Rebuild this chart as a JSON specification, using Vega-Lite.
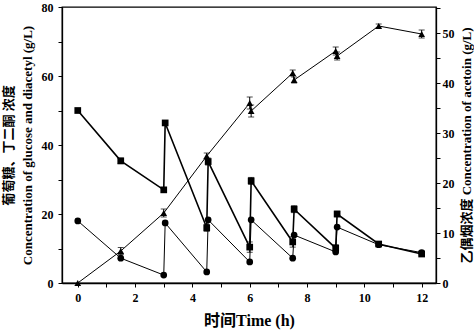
{
  "$schema": "https://vega.github.io/schema/vega-lite/v6.json",
  "width": 374,
  "height": 276,
  "autosize": "none",
  "padding": {"left": 62, "top": 7, "right": 38, "bottom": 52},
  "background": "white",
  "datasets": {
    "gd": [
      {"t": 0, "s": "glucose", "v": 50.0, "e": 0},
      {"t": 1.5, "s": "glucose", "v": 35.4, "e": 0.8},
      {"t": 3, "s": "glucose", "v": 27.0, "e": 0},
      {"t": 3.05, "s": "glucose", "v": 46.4, "e": 0},
      {"t": 4.5, "s": "glucose", "v": 16.0, "e": 1.0},
      {"t": 4.55, "s": "glucose", "v": 35.2, "e": 1.0},
      {"t": 6, "s": "glucose", "v": 10.4, "e": 1.5},
      {"t": 6.05, "s": "glucose", "v": 29.6, "e": 1.0},
      {"t": 7.5, "s": "glucose", "v": 11.9, "e": 1.5},
      {"t": 7.55, "s": "glucose", "v": 21.4, "e": 1.0},
      {"t": 9, "s": "glucose", "v": 10.1, "e": 1.0},
      {"t": 9.05, "s": "glucose", "v": 20.0, "e": 0.8},
      {"t": 10.5, "s": "glucose", "v": 11.3, "e": 0.5},
      {"t": 12, "s": "glucose", "v": 8.4, "e": 0.5},
      {"t": 0, "s": "diacetyl", "v": 18.0, "e": 0},
      {"t": 1.5, "s": "diacetyl", "v": 7.2, "e": 0},
      {"t": 3, "s": "diacetyl", "v": 2.3, "e": 0},
      {"t": 3.05, "s": "diacetyl", "v": 17.4, "e": 0},
      {"t": 4.5, "s": "diacetyl", "v": 3.2, "e": 0},
      {"t": 4.55, "s": "diacetyl", "v": 18.3, "e": 0},
      {"t": 6, "s": "diacetyl", "v": 6.1, "e": 0},
      {"t": 6.05, "s": "diacetyl", "v": 18.3, "e": 0},
      {"t": 7.5, "s": "diacetyl", "v": 7.2, "e": 0},
      {"t": 7.55, "s": "diacetyl", "v": 13.9, "e": 0},
      {"t": 9, "s": "diacetyl", "v": 9.0, "e": 0},
      {"t": 9.05, "s": "diacetyl", "v": 16.2, "e": 0},
      {"t": 10.5, "s": "diacetyl", "v": 11.1, "e": 0},
      {"t": 12, "s": "diacetyl", "v": 8.8, "e": 0}
    ],
    "ac": [
      {"t": 0, "v": 0, "e": 0},
      {"t": 1.5, "v": 6.4, "e": 0.7},
      {"t": 3, "v": 14.0, "e": 0.8},
      {"t": 4.5, "v": 25.4, "e": 0.6},
      {"t": 6, "v": 36.0, "e": 1.2},
      {"t": 6.05, "v": 34.4, "e": 1.2},
      {"t": 7.5, "v": 42.0, "e": 0.6},
      {"t": 7.55, "v": 40.6, "e": 0.6},
      {"t": 9, "v": 46.4, "e": 0.8},
      {"t": 9.05, "v": 45.4, "e": 0.8},
      {"t": 10.5, "v": 51.4, "e": 0.4},
      {"t": 12, "v": 49.8, "e": 0.8}
    ]
  },
  "layer": [
    {
      "data": {"name": "gd"},
      "encoding": {
        "x": {
          "field": "t", "type": "quantitative",
          "scale": {"domain": [-0.55, 12.5], "nice": false, "zero": false},
          "axis": {
            "title": "时间Time (h)",
            "values": [0,1,2,3,4,5,6,7,8,9,10,11,12],
            "labelExpr": "datum.value % 2 === 0 ? datum.label : ''",
            "tickSize": 4,
            "labelPadding": 5,
            "titleFontSize": 16,
            "titlePadding": 9
          }
        },
        "y": {
          "field": "v", "type": "quantitative",
          "scale": {"domain": [0, 80], "nice": false},
          "axis": {
            "title": ["葡萄糖、丁二酮 浓度", "Concentration of glucose and diacetyl (g/L)"],
            "values": [0,10,20,30,40,50,60,70,80],
            "labelExpr": "datum.value % 20 === 0 ? datum.label : ''",
            "tickSize": 4,
            "labelPadding": 5,
            "titleFontSize": 13,
            "titleLineHeight": 19,
            "titlePadding": 7
          }
        }
      },
      "layer": [
        {
          "mark": {"type": "line", "color": "black"},
          "encoding": {
            "detail": {"field": "s"},
            "strokeWidth": {"field": "s", "scale": {"domain": ["glucose", "diacetyl"], "range": [1.6, 1]}, "legend": null}
          }
        },
        {
          "transform": [{"filter": "datum.e > 0"}],
          "mark": {"type": "errorbar", "ticks": {"size": 6, "color": "black"}, "color": "black"},
          "encoding": {"yError": {"field": "e"}}
        },
        {
          "mark": {"type": "point", "filled": true, "color": "black", "opacity": 1, "size": 45},
          "encoding": {
            "shape": {"field": "s", "scale": {"domain": ["glucose", "diacetyl"], "range": ["square", "circle"]}, "legend": null}
          }
        }
      ]
    },
    {
      "data": {"name": "ac"},
      "encoding": {
        "x": {
          "field": "t", "type": "quantitative",
          "scale": {"domain": [-0.55, 12.5], "nice": false, "zero": false},
          "axis": {
            "title": "时间Time (h)",
            "values": [0,1,2,3,4,5,6,7,8,9,10,11,12],
            "labelExpr": "datum.value % 2 === 0 ? datum.label : ''",
            "tickSize": 4,
            "labelPadding": 5,
            "titleFontSize": 16,
            "titlePadding": 9
          }
        },
        "y": {
          "field": "v", "type": "quantitative",
          "scale": {"domain": [0, 55.2], "nice": false},
          "axis": {
            "orient": "right",
            "title": "乙偶烟浓度 Concentration of acetoin (g/L)",
            "values": [0,5,10,15,20,25,30,35,40,45,50,55],
            "labelExpr": "datum.value % 10 === 0 ? datum.label : ''",
            "tickSize": 4,
            "labelPadding": 2,
            "titleAngle": 270,
            "titleFontSize": 13,
            "titlePadding": 19
          }
        }
      },
      "layer": [
        {
          "mark": {"type": "line", "color": "black", "strokeWidth": 1}
        },
        {
          "transform": [{"filter": "datum.e > 0"}],
          "mark": {"type": "errorbar", "ticks": {"size": 6, "color": "black"}, "color": "black"},
          "encoding": {"yError": {"field": "e"}}
        },
        {
          "mark": {"type": "point", "shape": "triangle-up", "filled": true, "color": "black", "opacity": 1, "size": 45}
        }
      ]
    }
  ],
  "resolve": {"scale": {"y": "independent"}},
  "config": {
    "view": {"stroke": "black", "strokeWidth": 1.3},
    "font": "Liberation Serif",
    "axis": {
      "grid": false,
      "domainColor": "black",
      "domainWidth": 1.3,
      "tickColor": "black",
      "tickWidth": 1,
      "labelColor": "black",
      "labelFont": "Liberation Serif",
      "labelFontWeight": "bold",
      "labelFontSize": 12,
      "titleColor": "black",
      "titleFont": "Liberation Serif, Noto Sans CJK SC",
      "titleFontWeight": "bold"
    }
  }
}
